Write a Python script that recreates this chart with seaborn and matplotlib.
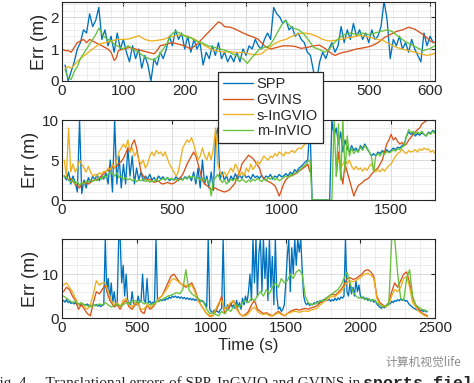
import matplotlib
matplotlib.use("Agg")
import matplotlib.pyplot as plt
from matplotlib.ticker import MultipleLocator
import numpy as np
import pandas as pd
import seaborn as sns

methods = ["SPP", "GVINS", "s-InGVIO", "m-InVIO"]
colors = {"SPP": "#0072BD", "GVINS": "#D95319", "s-InGVIO": "#EDB120", "m-InVIO": "#66C23A"}

# ---------------- panel 1 (0-600 s) ----------------
# SPP: t = 5, 10, ... step 5
p1_spp = [0.5, 0.0, 0.3, 0.6, 1.0, 1.2, 1.6, 1.5, 2.1, 1.7, 1.9, 2.3,
          1.3, 1.6, 1.1, 1.4, 0.9, 1.5, 1.0, 1.3, 0.9, 0.6, 1.1, 0.7,
          1.0, 0.4, 0.8, 0.5, 0.0, 0.7, 0.5, 0.9, 0.7, 1.0, 1.4, 1.1,
          1.6, 1.3, 1.5, 1.0, 1.4, 0.9, 1.3, 1.0, 1.2, 0.5, 0.9, 0.7,
          1.1, 0.8, 1.2, 0.7, 0.9, 0.6, 0.8, 0.6, 0.9, 0.6, 1.0, 0.8,
          1.1, 1.0, 1.3, 1.1, 1.0, 1.3, 1.5, 1.3, 2.3, 2.1, 2.0, 1.8,
          1.9, 1.6, 1.7, 1.4, 1.5, 1.3, 1.2, 0.9, 0.8, 0.3, 0.0, 0.6,
          0.9, 0.7, 1.0, 1.2, 0.9, 1.1, 1.7, 1.2, 1.6, 1.3, 1.8, 1.4,
          1.6, 1.3, 1.5, 1.2, 1.6, 1.3, 1.4, 1.7, 2.5, 1.9, 0.7, 1.3,
          1.1, 1.4, 1.0, 1.2, 0.9, 1.3, 1.0, 0.8, 0.6, 1.5, 1.1, 1.4,
          1.2]
p1_gvins_t = [0, 5, 10, 15, 20, 25, 30, 35, 40, 45, 50, 55, 60, 65, 70, 75, 80, 85, 88, 92,
              100, 110, 120, 130, 140, 150, 155, 160, 170, 180, 190, 200, 210, 220, 230, 240,
              250, 255, 260, 265, 275, 285, 295, 305, 315, 320, 330, 340, 350, 360, 370, 380,
              390, 400, 410, 420, 430, 440, 445, 455, 465, 480, 495, 505, 515, 525, 535, 545,
              555, 565, 575, 585, 595, 600, 608]
p1_gvins = [1.0, 0.95, 0.95, 0.9, 1.05, 1.2, 1.25, 1.3, 1.2, 1.3, 1.25, 1.2, 1.15, 1.1, 1.05,
            1.0, 0.9, 0.65, 0.7, 0.95, 1.0, 1.05, 1.0, 0.95, 0.9, 0.85, 0.95, 1.1, 1.15, 1.2,
            1.15, 1.1, 1.0, 1.15, 1.35, 1.55, 1.75, 1.85, 1.8, 1.7, 1.68, 1.6, 1.5, 1.42, 1.35,
            1.3, 1.1, 1.0, 1.05, 1.1, 1.1, 1.08, 1.02, 1.05, 1.1, 1.12, 1.0, 0.85, 0.8, 0.88,
            0.92, 1.0, 1.05, 1.1, 1.2, 1.35, 1.45, 1.55, 1.6, 1.68, 1.62, 1.5, 1.35, 1.25, 1.2]
p1_sin_t = [5, 10, 15, 20, 25, 30, 40, 50, 60, 70, 80, 90, 100, 110, 120, 125, 135, 145, 155,
            165, 175, 185, 195, 205, 215, 225, 235, 245, 255, 265, 275, 285, 295, 305, 315, 325,
            335, 345, 355, 365, 375, 385, 395, 405, 415, 425, 435, 445, 455, 465, 475, 485, 495,
            505, 515, 525, 535, 545, 555, 565, 575, 585, 595, 603, 608]
p1_sin = [0.4, 0.45, 0.4, 0.5, 0.6, 0.7, 0.85, 1.0, 1.15, 1.2, 1.25, 1.3, 1.3, 1.32, 1.38, 1.42,
          1.3, 1.25, 1.27, 1.3, 1.37, 1.42, 1.45, 1.4, 1.32, 1.2, 1.08, 0.98, 0.93, 0.9, 0.92,
          0.88, 0.9, 0.85, 0.82, 0.85, 1.0, 1.15, 1.25, 1.3, 1.4, 1.48, 1.5, 1.47, 1.4, 1.3,
          1.25, 1.27, 1.3, 1.35, 1.38, 1.42, 1.4, 1.35, 1.3, 1.25, 1.15, 1.05, 1.0, 0.95, 0.9,
          0.85, 0.8, 0.83, 0.87]
p1_min_t = [5, 10, 15, 20, 25, 30, 35, 40, 45, 50, 55, 60, 63, 68, 75, 82, 90, 100, 108, 115,
            125, 135, 142, 150, 158, 165, 172, 178, 185, 192, 200, 210, 218, 228, 238, 248, 258,
            268, 278, 288, 295, 302, 308, 315, 322, 330, 338, 345, 352, 358, 364, 370, 378, 386,
            395, 403, 410, 418, 428, 436, 444, 452, 460, 470, 480, 490, 500, 510, 520, 530, 538,
            548, 558, 568, 578, 588, 598, 608]
p1_min = [0.35, 0.1, 0.05, 0.3, 0.45, 0.7, 0.85, 1.0, 1.15, 1.3, 1.45, 1.65, 1.55, 1.4, 1.3,
          1.2, 1.1, 1.0, 1.1, 1.0, 0.9, 0.75, 0.7, 0.65, 0.8, 1.0, 1.2, 1.45, 1.55, 1.5, 1.4,
          1.35, 1.25, 1.2, 1.1, 1.05, 1.0, 0.95, 0.85, 0.75, 0.7, 0.55, 0.7, 0.85, 1.0, 1.05,
          1.1, 1.3, 1.55, 1.75, 1.9, 1.75, 1.65, 1.6, 1.45, 1.25, 1.05, 1.0, 0.9, 1.0, 1.2,
          1.35, 1.45, 1.5, 1.45, 1.5, 1.45, 1.5, 1.55, 1.6, 1.55, 1.4, 1.25, 1.15, 1.05, 0.95,
          1.0, 1.1]

# ---------------- panel 2 (0-1700 s), t = 10, 20, ... step 10 ----------------
nan = np.nan
p2_spp = [3.0, 2.5, 3.5, 2.0, 3.0, 2.2, 1.0, 10.0, 0.8, 2.5, 1.5, 2.8, 2.2, 3.0, 2.5, 3.2, 2.4,
          3.0, 2.6, 3.4, 2.0, 5.0, 1.0, 10.0, 2.0, 5.5, 1.5, 4.5, 2.0, 6.5, 3.0, 5.5, 2.0, 4.0,
          2.5, 3.5, 2.4, 3.0, 2.6, 3.2, 2.5, 2.8, 2.4, 3.0, 2.6, 2.9, 2.5, 2.8, 2.4, 2.7, 2.5,
          2.9, 2.6, 2.8, 2.5, 2.9, 2.7, 3.0, 2.4, 3.5, 2.0, 4.0, 1.5, 5.0, 2.0, 3.0, 1.5, 3.5,
          1.2, 8.0, 9.0, 2.5, 3.5, 2.5, 3.0, 2.2, 3.0, 2.5, 3.3, 2.6, 3.1, 2.7, 3.3, 2.8, 3.0,
          2.6, 3.2, 2.8, 3.0, 2.7, 3.1, 2.6, 3.0, 2.8, 3.2, 2.6, 3.0, 2.8, 3.2, 2.9, 3.0, 3.3,
          3.0, 3.5, 3.2, 3.8, 3.5, 4.0, 4.2, 4.5, 4.8, 5.0, 9.5, 0.0, 0.0, 0.0, 0.0, 0.0, 0.0,
          0.0, 0.0, 0.0, 10.0, 8.0, 9.0, 7.0, 8.5, 6.0, 7.5, 6.5, 6.0, 6.8, 6.2, 6.5, 6.0, 6.8,
          6.4, 7.0, 6.5, 6.0, 5.5, 5.8, 5.5, 6.0, 5.8, 6.2, 5.9, 6.3, 6.0, 6.2, 6.5, 6.3, 6.6,
          6.5, 6.8, 7.0, 8.0, 8.5, 8.2, 8.4, 8.0, 8.3, 8.1, 8.4, 8.2, 8.0, 8.5, 8.3, 8.7, 8.5]
p2_gvins = [3.0, 2.8, 2.5, 2.7, 2.3, 2.0, 1.8, 1.5, 2.0, 2.2, 2.1, 2.0, 2.2, 2.4, 2.5, 2.6,
            2.8, 3.0, 3.3, 3.6, 3.7, 3.8, 4.2, 4.0, 4.3, 4.6, 4.8, 5.2, 5.8, 6.5, 6.0, 7.0, 7.5,
            6.5, 5.0, 3.5, 3.0, 2.7, 2.4, 2.6, 2.4, 2.2, 2.3, 2.4, 2.1, 2.0, 2.1, 2.2, 2.1, 2.0,
            2.1, 2.3, 2.5, 2.8, 3.2, 3.8, 4.5, 5.0, 5.5, 6.0, 5.5, 4.5, 3.5, 2.5, 2.0, 1.8, 1.6,
            1.3, 1.4, 1.5, 1.3, 1.2, 1.1, 1.0, 1.1, 1.2, 1.5, 1.8, 2.2, 3.0, 3.5, 4.5, 4.9, 5.2,
            5.6, 5.4, 5.2, 4.8, 4.4, 4.0, 3.0, 2.7, 2.5, 2.3, 2.2, 2.0, 1.8, 1.2, 0.5, 1.2, 2.0,
            2.5, 2.8, 3.0, 3.1, 3.2, 3.4, 3.6, 3.8, 4.0, 4.2, 4.5, 3.5, nan, nan, nan, nan, nan,
            nan, nan, nan, nan, nan, nan, 3.0, 6.0, 3.5, 2.0, 4.5, 3.5, 2.5, 1.5, 0.5, 1.2, 1.8,
            2.0, 2.2, 2.5, 2.6, 2.8, 3.2, 3.5, 3.8, 4.0, 4.5, 5.0, 6.0, 7.0, 7.5, 8.2, 7.5, 7.8,
            7.3, 7.0, 7.2, 6.8, 7.0, 7.5, 7.8, 8.2, 8.5, 8.8, 9.0, 9.5, 9.7, 9.9, 10.0]
p2_sin = [5.0, 3.0, 9.0, 3.5, 4.5, 3.5, 4.0, 5.0, 4.5, 4.0, 3.5, 4.2, 3.5, 3.0, 3.2, 3.0, 3.4,
          3.2, 3.6, 3.5, 4.0, 3.8, 4.5, 4.0, 5.0, 6.0, 6.5, 7.0, 6.5, 7.5, 6.0, 6.5, 5.5, 6.0,
          5.0, 4.5, 5.0, 4.0, 4.5, 5.5, 6.0, 5.5, 6.2, 5.8, 6.0, 5.5, 6.0, 5.2, 4.5, 4.0, 3.5,
          3.0, 3.5, 5.0, 6.5, 7.0, 7.5, 7.2, 7.8, 7.0, 6.0, 5.0, 5.5, 6.5, 5.5, 5.0, 6.0, 5.0,
          6.5, 9.0, 4.5, 3.5, 3.0, 3.5, 3.0, 3.5, 4.0, 3.5, 4.5, 4.0, 3.0, 3.5, 3.0, 4.0, 3.5,
          4.5, 3.8, 4.2, 4.8, 4.5, 5.0, 5.5, 5.2, 5.0, 5.5, 5.3, 5.8, 5.5, 6.0, 5.8, 5.5, 6.0,
          5.8, 6.0, 6.2, 5.9, 6.3, 6.5, 6.4, 6.8, 7.0, 7.3, 7.6, nan, nan, nan, nan, nan, nan,
          nan, nan, nan, nan, nan, 4.5, 5.0, 4.0, 4.5, 5.0, 4.5, 5.0, 4.2, 3.8, 4.2, 3.8, 4.0,
          3.6, 4.0, 3.7, 4.2, 4.5, 4.0, 3.5, 3.8, 3.5, 3.9, 3.6, 4.0, 4.3, 4.5, 5.0, 5.5, 5.8,
          6.0, 6.3, 6.0, 5.8, 6.2, 6.0, 6.1, 6.3, 6.0, 6.4, 6.2, 6.5, 6.3, 6.4, 6.0, 6.2, 5.8]
p2_min = [3.0, 2.8, 2.5, 2.2, 2.6, 2.0, 2.3, 1.8, 2.2, 2.0, 2.4, 2.2, 2.5, 2.3, 2.6, 2.4, 2.8,
          2.6, 3.0, 2.8, 3.2, 3.5, 3.3, 3.0, 3.4, 2.8, 3.0, 2.6, 2.8, 2.5, 2.7, 2.4, 2.6, 2.3,
          2.5, 2.4, 2.6, 2.3, 2.5, 2.2, 2.4, 2.3, 2.6, 2.4, 2.5, 2.7, 2.5, 2.8, 2.6, 2.7, 2.5,
          2.6, 2.4, 2.6, 2.5, 2.8, 2.6, 3.0, 2.8, 3.0, 2.6, 2.8, 2.5, 2.7, 2.4, 2.6, 2.2, 0.5,
          2.5, 2.8, 3.2, 2.6, 2.2, 2.5, 2.0, 2.3, 2.6, 2.4, 2.7, 2.5, 2.3, 2.6, 2.4, 2.2, 2.5,
          2.3, 2.6, 2.4, 2.7, 2.5, 2.3, 2.6, 2.4, 2.8, 2.6, 2.9, 2.5, 2.7, 2.4, 2.6, 2.8, 3.0,
          2.8, 3.2, 3.0, 3.4, 3.3, 3.7, 3.9, 4.2, 4.4, 4.8, 5.0, 0.0, 0.0, 0.0, 0.0, 0.0, 0.0,
          0.0, 0.0, 0.0, 0.0, 10.0, 3.0, 9.5, 2.5, 10.0, 3.5, 8.0, 5.5, 6.5, 5.8, 6.2, 6.0, 6.6,
          6.2, 6.8, 6.4, 6.0, 5.5, 3.5, 5.5, 5.8, 5.5, 6.0, 5.7, 6.1, 5.9, 6.0, 6.3, 6.1, 6.4,
          6.3, 6.6, 6.8, 8.0, 8.8, 8.4, 8.6, 8.2, 8.5, 8.3, 8.6, 8.2, 8.0, 8.4, 8.2, 8.6, 8.3]

# ---------------- panel 3 (0-2500 s) ----------------
# SPP: t = 10, 20, ... step 10
p3_spp = [4.0, 3.6, 4.2, 3.5, 3.8, 3.3, 3.6, 3.2, 3.5, 3.0, 3.3, 2.9, 3.2, 2.8, 3.1, 2.9, 3.2,
          2.8, 3.0, 2.7, 3.0, 2.8, 3.1, 2.7, 2.9, 2.6, 2.9, 3.0, 18.0, 6.0, 9.0, 4.0, 8.0, 3.5,
          6.0, 3.0, 3.5, 18.0, 18.0, 8.0, 12.0, 5.0, 10.0, 4.0, 3.5, 3.0, 6.0, 3.2, 3.5, 3.0,
          5.0, 3.5, 4.0, 10.0, 4.0, 3.5, 9.0, 3.5, 3.8, 3.2, 3.6, 3.4, 18.0, 4.0, 3.8, 4.2,
          3.9, 4.3, 4.0, 4.5, 4.3, 4.8, 4.5, 5.0, 4.7, 5.0, 4.6, 4.9, 4.5, 4.8, 4.4, 4.7, 4.3,
          4.6, 4.2, 4.5, 4.1, 4.4, 4.0, 4.3, 3.9, 4.2, 3.8, 4.0, 3.6, 3.2, 2.5, 18.0, 2.0, 1.5,
          1.2, 1.8, 1.4, 1.6, 1.2, 1.8, 2.2, 18.0, 2.5, 2.0, 3.0, 2.2, 3.5, 2.5, 3.0, 2.2, 4.0,
          2.5, 3.5, 2.0, 4.5, 3.0, 5.0, 3.5, 6.0, 10.0, 4.0, 18.0, 8.0, 18.0, 5.0, 15.0, 18.0,
          6.0, 18.0, 9.0, 16.0, 4.0, 18.0, 7.0, 14.0, 3.0, 18.0, 5.0, 2.0, 2.5, 1.5, 2.0, 3.0,
          8.0, 14.0, 18.0, 6.0, 16.0, 10.0, 18.0, 12.0, 18.0, 15.0, 18.0, 11.0, 5.0, 3.5, 3.0,
          3.5, 2.8, 3.2, 3.0, 3.5, 3.2, 3.8, 3.3, 4.0, 3.5, 4.2, 3.8, 4.5, 4.0, 4.3, 3.8, 4.2,
          3.9, 4.5, 4.0, 4.6, 4.2, 4.8, 4.5, 5.0, 18.0, 6.0, 5.0, 8.0, 5.5, 7.0, 5.0, 8.5, 6.0,
          7.5, 5.0, 4.5, 4.8, 4.2, 4.6, 4.0, 4.3, 3.8, 4.2, 3.6, 3.9, 3.2, 2.8, 2.5, 2.2, 2.6,
          2.3, 2.8, 3.0, 3.5, 3.2, 3.8, 3.5, 4.0, 3.8, 4.2, 3.9, 4.4, 4.0, 4.3, 3.8, 4.0, 3.5,
          3.0, 2.8, 2.4, 2.2, 2.0, 1.8, 2.0, 1.6, 1.8, 1.5, 1.7, 1.4, 1.5]
# GVINS, s-InGVIO, m-InVIO: t = 10, 30, ... step 20
p3_gvins = [6.0, 7.0, 6.5, 5.0, 4.0, 2.0, 3.0, 2.0, 1.0, 0.5, 3.5, 6.0, 5.5, 6.5, 7.5, 5.0,
            3.5, 2.5, 3.0, 2.0, 3.5, 4.0, 2.5, 2.0, 3.0, 3.5, 1.5, 1.0, 3.0, 2.0, 2.5, 3.5, 4.5,
            5.0, 6.5, 8.0, 9.5, 10.0, 9.0, 8.0, 7.5, 7.0, 7.5, 8.0, 6.5, 4.5, 3.0, 2.0, 1.0,
            0.5, 0.5, 1.5, 3.0, 5.0, 1.0, 2.0, 3.0, 4.0, 2.5, 1.0, 0.5, 0.8, 1.5, 3.0, 4.0, 2.0,
            1.5, 1.0, 1.2, 0.8, 0.5, 1.0, 1.5, 1.0, 0.5, 1.0, 1.5, 1.8, 2.0, 1.8, 2.0, 2.2, 2.0,
            2.3, 2.5, 2.8, 3.5, 4.0, 4.5, 5.0, 5.5, 5.2, 5.8, 6.5, 7.5, 9.0, 9.2, 8.8, 9.0, 9.5,
            10.0, 10.8, 11.0, 10.5, 9.5, 5.0, 3.5, 3.0, 2.5, 3.5, 6.0, 8.0, 7.0, 8.5, 10.0, 10.5,
            8.0, 4.5, 3.0, 2.0, 1.2, 0.8, 0.5]
p3_sin = [7.5, 8.0, 7.0, 6.0, 4.5, 3.0, 3.5, 2.5, 2.0, 3.0, 5.5, 8.5, 7.5, 8.0, 8.0, 6.0, 4.0,
          3.0, 3.5, 2.5, 4.0, 4.5, 3.0, 2.5, 3.5, 3.0, 2.0, 2.0, 3.0, 2.5, 3.0, 3.5, 4.5, 5.0,
          6.0, 7.0, 8.5, 9.0, 8.5, 8.0, 7.5, 7.5, 7.0, 7.5, 6.0, 4.0, 3.0, 2.0, 1.0, 0.3, 0.5,
          2.0, 3.5, 4.0, 2.0, 2.5, 3.5, 4.0, 2.0, 1.0, 0.5, 0.5, 1.0, 2.0, 2.5, 1.5, 1.0, 0.8,
          1.0, 0.5, 0.5, 0.8, 1.2, 0.8, 0.5, 1.0, 1.2, 1.5, 1.5, 1.3, 1.5, 1.6, 1.5, 1.8, 2.0,
          2.2, 3.0, 3.5, 4.0, 4.5, 5.0, 4.8, 5.5, 6.0, 7.0, 8.0, 8.5, 8.3, 8.5, 9.0, 9.5, 10.0,
          10.2, 9.8, 9.0, 4.5, 3.0, 2.8, 2.5, 3.0, 5.0, 6.5, 6.0, 7.0, 9.0, 9.5, 7.0, 3.5, 2.5,
          1.5, 1.0, 0.5, 0.3]
p3_min = [5.0, 4.5, 4.0, 3.5, 3.8, 3.2, 3.5, 3.0, 2.8, 2.5, 3.0, 2.8, 3.2, 3.0, 3.5, 3.0, 2.5,
          2.8, 3.2, 2.8, 3.0, 3.5, 3.2, 3.8, 4.0, 3.5, 3.8, 3.2, 3.5, 3.0, 3.2, 3.6, 3.8, 4.2,
          4.6, 5.0, 5.2, 5.5, 5.8, 5.5, 6.5, 11.0, 6.5, 5.5, 5.0, 4.5, 4.0, 3.5, 2.0, 1.0, 1.2,
          0.8, 0.5, 1.5, 1.0, 2.0, 1.5, 2.5, 3.0, 2.5, 3.5, 4.0, 3.5, 4.5, 4.0, 5.0, 6.0, 5.0,
          6.5, 5.5, 7.0, 8.0, 7.0, 9.0, 8.0, 8.5, 10.0, 9.0, 10.5, 11.0, 10.0, 5.0, 3.5, 3.0,
          3.2, 3.5, 3.8, 4.0, 4.5, 5.0, 5.5, 6.0, 6.5, 7.5, 9.0, 10.5, 8.0, 6.0, 5.0, 4.5, 4.8,
          4.2, 4.5, 4.0, 4.2, 3.5, 3.0, 2.5, 2.8, 3.0, 18.0, 18.0, 10.0, 4.5, 4.0, 9.0, 11.0,
          5.0, 3.0, 2.5, 2.0, 1.8, 1.5]


def on_grid(t0, dt, vals):
    return t0 + dt * np.arange(len(vals)), np.asarray(vals, dtype=float)


def make_frame(series):
    rows = []
    for name, (t, v) in series.items():
        v = np.asarray(v, dtype=float)
        seg = np.cumsum(np.isnan(v))
        d = pd.DataFrame({"t": np.asarray(t, dtype=float), "err": v, "method": name, "seg": seg})
        rows.append(d.dropna())
    return pd.concat(rows, ignore_index=True)


panels = [
    make_frame({"SPP": on_grid(5, 5, p1_spp), "GVINS": (p1_gvins_t, p1_gvins),
                "s-InGVIO": (p1_sin_t, p1_sin), "m-InVIO": (p1_min_t, p1_min)}),
    make_frame({"SPP": on_grid(10, 10, p2_spp), "GVINS": on_grid(10, 10, p2_gvins),
                "s-InGVIO": on_grid(10, 10, p2_sin), "m-InVIO": on_grid(10, 10, p2_min)}),
    make_frame({"SPP": on_grid(10, 10, p3_spp), "GVINS": on_grid(10, 20, p3_gvins),
                "s-InGVIO": on_grid(10, 20, p3_sin), "m-InVIO": on_grid(10, 20, p3_min)}),
]

sns.set_style("white")
plt.rcParams["font.family"] = ["Liberation Sans", "DejaVu Sans"]
plt.rcParams["axes.edgecolor"] = "#262626"
plt.rcParams["xtick.color"] = "#262626"
plt.rcParams["ytick.color"] = "#262626"

W, H = 474, 383
fig = plt.figure(figsize=(W / 100, H / 100), dpi=100)

# axes boxes in pixels: (top, bottom)
boxes = [(2, 81), (120, 200), (239, 318)]
xlims = [(0, 608), (0, 1700), (0, 2500)]
ylims = [(0, 2.47), (0, 10), (0, 18)]
xmaj = [100, 500, 500]
xmin = [20, 100, 100]
ymaj = [1, 5, 10]
ymin = [0.2, 1, 2]

axes = []
for i, df in enumerate(panels):
    top, bot = boxes[i]
    ax = fig.add_axes([62 / W, 1 - bot / H, (435 - 62) / W, (bot - top) / H])
    sns.lineplot(data=df, x="t", y="err", hue="method", units="seg", estimator=None,
                 hue_order=methods, palette=colors, sort=False, linewidth=0.95,
                 legend=False, ax=ax)
    ax.set_xlim(*xlims[i])
    ax.set_ylim(*ylims[i])
    ax.xaxis.set_major_locator(MultipleLocator(xmaj[i]))
    ax.xaxis.set_minor_locator(MultipleLocator(xmin[i]))
    ax.yaxis.set_major_locator(MultipleLocator(ymaj[i]))
    ax.yaxis.set_minor_locator(MultipleLocator(ymin[i]))
    ax.grid(which="major", color="#d4d4d4", linewidth=0.6)
    ax.grid(which="minor", color="#e6e6e6", linewidth=0.5)
    ax.set_axisbelow(True)
    ax.tick_params(which="both", direction="in", top=True, right=True, labelsize=11, pad=2)
    ax.tick_params(which="major", length=3)
    ax.tick_params(which="minor", length=0)
    for s in ax.spines.values():
        s.set_visible(True)
        s.set_linewidth(0.8)
    ax.set_xlabel("")
    ax.set_ylabel("Err (m)", fontsize=13, labelpad=2)
    axes.append(ax)

axes[2].set_xlabel("Time (s)", fontsize=12, labelpad=2)
fig.align_ylabels(axes)

handles = axes[0].get_lines()[:4]
leg = fig.legend(handles, methods, loc="upper left", bbox_to_anchor=(218 / W, 1 - 72 / H),
                 fontsize=10.5, frameon=True, fancybox=False, framealpha=1, edgecolor="#262626",
                 borderaxespad=0, borderpad=0.35, labelspacing=0.12, handlelength=2.05,
                 handletextpad=0.25)
leg.get_frame().set_linewidth(0.9)

fig.text(-9 / W, 1 - 376 / H, "Fig. 4.    Translational errors of SPP, InGVIO and GVINS in",
         family=["Liberation Serif", "DejaVu Serif"], fontsize=11, va="top", ha="left")
fig.text(363 / W, 1 - 376 / H, "sports field", family=["Liberation Mono", "DejaVu Sans Mono"],
         fontsize=12, fontweight="bold", va="top", ha="left")
fig.text(385 / W, 1 - 362 / H, "计算机视觉life", family=["Noto Sans CJK SC", "DejaVu Sans"],
         fontsize=8.5, color="#8c8c8c", va="center", ha="left")

fig.savefig("out.png", dpi=100)
